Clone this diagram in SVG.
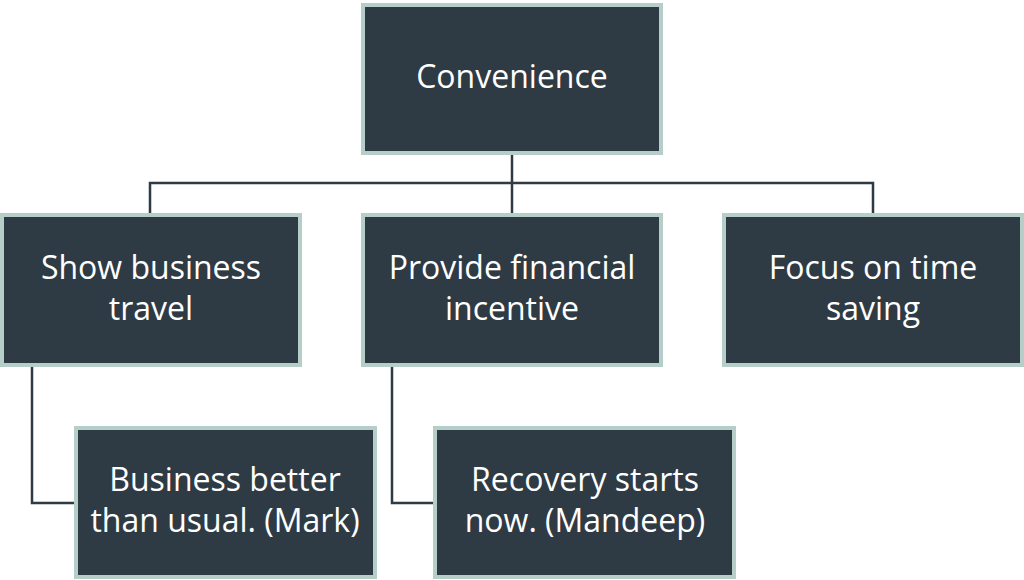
<svg xmlns="http://www.w3.org/2000/svg" width="1024" height="580" viewBox="0 0 1024 580">
<style>
.box{fill:#2f3b44;stroke:#b6cec8;stroke-width:4}
.lbl{font-family:"Open Sans","Liberation Sans",sans-serif;font-size:32px;fill:#ffffff;text-anchor:middle}
.con{fill:none;stroke:#2f3b44;stroke-width:2.5}
</style>
<rect width="1024" height="580" fill="#ffffff"/>
<g id="connectors">
<path class="con" d="M512 155 V213"/>
<path class="con" d="M150 213 V183 H873 V213"/>
<path class="con" d="M32 367 V503 H74"/>
<path class="con" d="M392 367 V503 H433"/>
</g>
<g id="n-convenience">
<rect class="box" x="363" y="5" width="298" height="148"/>
<text class="lbl" x="512" y="88">Convenience</text>
</g>
<g id="n-show">
<rect class="box" x="2" y="215" width="298" height="150"/>
<text class="lbl" x="151" y="279">Show business</text>
<text class="lbl" x="151" y="320">travel</text>
</g>
<g id="n-provide">
<rect class="box" x="363" y="215" width="298" height="150"/>
<text class="lbl" x="512" y="279">Provide financial</text>
<text class="lbl" x="512" y="320">incentive</text>
</g>
<g id="n-focus">
<rect class="box" x="724" y="215" width="298" height="150"/>
<text class="lbl" x="873" y="279">Focus on time</text>
<text class="lbl" x="873" y="320">saving</text>
</g>
<g id="n-business">
<rect class="box" x="76" y="428" width="299" height="149"/>
<text class="lbl" x="225" y="491">Business better</text>
<text class="lbl" x="225" y="532">than usual. (Mark)</text>
</g>
<g id="n-recovery">
<rect class="box" x="435" y="428" width="299" height="149"/>
<text class="lbl" x="585" y="491">Recovery starts</text>
<text class="lbl" x="585" y="532">now. (Mandeep)</text>
</g>
</svg>
